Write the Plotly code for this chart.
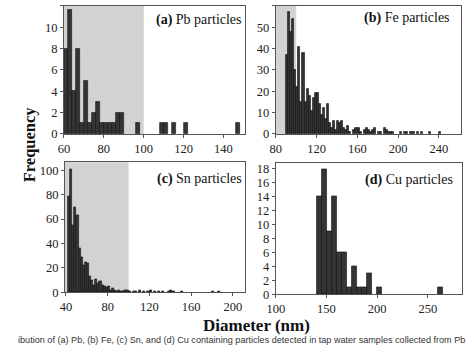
import plotly.graph_objects as go

# ---------------- data ----------------
pb_bins = [60, 62, 64, 66, 68, 70, 72, 74, 76, 78, 80, 82, 84, 86, 88, 96, 108, 110, 114, 120, 146]
pb_counts = [8, 11.6, 4, 8, 1, 5, 1, 2, 3, 1, 1, 1, 1, 2, 2, 1, 1, 1, 1, 1, 1]

fe_bins = [90, 92, 94, 96, 98, 100, 102, 104, 106, 108, 110, 112, 114, 116, 118, 120, 122, 124, 126, 128,
           130, 132, 134, 136, 138, 140, 142, 144, 146, 148, 150, 152, 156, 158, 160, 162, 166, 168, 170, 172,
           174, 176, 180, 182, 186, 188, 190, 192, 194, 202, 206, 208, 212, 214, 218, 222, 230, 240]
fe_counts = [37, 57, 48, 54, 30, 22, 41, 15, 38, 15, 21, 18, 11, 17, 19, 19, 14, 9, 12, 7,
             14, 5, 3, 6, 2, 6, 5, 6, 3, 2, 4, 1, 2, 3, 3, 1, 2, 3, 2, 1,
             2, 3, 1, 1, 3, 2, 1, 1, 1, 1, 1, 1, 1, 1, 1, 1, 1, 1]

sn_bins = [42, 44, 46, 48, 50, 52, 54, 56, 58, 60, 62, 64, 66, 68, 70, 72, 74, 76, 78, 80,
           82, 84, 86, 88, 90, 92, 94, 96, 98, 100, 104, 106, 110, 114, 118, 120, 124, 128, 132, 138,
           140, 142, 150, 180, 186]
sn_counts = [79, 101, 55, 70, 63, 36, 29, 22, 25, 24, 13, 10, 6, 11, 7, 9, 6, 5, 4, 5,
             2, 3, 2, 1, 2, 1, 1, 2, 2, 1, 1, 1, 2, 1, 1, 2, 1, 1, 1, 1,
             2, 1, 1, 1, 1]

cu_bins = [140, 145, 150, 155, 160, 165, 170, 175, 180, 185, 190, 200, 260]
cu_counts = [14, 18, 9, 14, 6, 6, 1, 4, 1, 1, 3, 1, 1]

panel_titles = ["(a)", "(b)", "(c)", "(d)"]
panel_names = ["Pb particles", "Fe particles", "Sn particles", "Cu particles"]

# ---------------- figure ----------------
W, H = 474, 353
SERIF = "Liberation Serif"

def px_x(a, b):
    return [a / W, b / W]
def px_y(top, bottom):
    return [1 - bottom / H, 1 - top / H]

panels = [
    dict(bins=pb_bins, counts=pb_counts, width=2, xr=[60, 151], yr=[0, 12], xt=[60, 80, 100, 120, 140],
         yt=list(range(0, 13, 2)), dom_x=px_x(56, 241), dom_y=px_y(5, 136), shade=100),
    dict(bins=fe_bins, counts=fe_counts, width=2, xr=[80, 262], yr=[0, 60], xt=[80, 120, 160, 200, 240],
         yt=list(range(0, 61, 10)), dom_x=px_x(272, 461), dom_y=px_y(5, 136), shade=100),
    dict(bins=sn_bins, counts=sn_counts, width=2, xr=[39, 212], yr=[0, 106.6], xt=[40, 80, 120, 160, 200],
         yt=list(range(0, 101, 20)), dom_x=px_x(57, 241), dom_y=px_y(165, 298), shade=100),
    dict(bins=cu_bins, counts=cu_counts, width=5, xr=[100, 284], yr=[0, 18.8], xt=[100, 150, 200, 250],
         yt=list(range(0, 19, 2)), dom_x=px_x(272, 462), dom_y=px_y(166, 300), shade=None),
]

fig = go.Figure()
shapes = []
annotations = []
label_pos = [(240, 19), (452, 17), (240, 182), (455, 183)]

for i, p in enumerate(panels):
    n = i + 1
    xa = "x" if n == 1 else f"x{n}"
    ya = "y" if n == 1 else f"y{n}"
    centers = [b + p["width"] / 2 for b in p["bins"]]
    fig.add_trace(go.Bar(
        x=centers, y=p["counts"], width=p["width"],
        marker=dict(color="#353535", line=dict(color="#111", width=0.6)),
        xaxis=xa, yaxis=ya, showlegend=False, hoverinfo="x+y"))
    axis_common = dict(showline=True, linecolor="#555", linewidth=1, mirror=True,
                       ticks="outside", ticklen=3, tickcolor="#555", showgrid=False,
                       zeroline=False)
    fig.layout[("xaxis" if n == 1 else f"xaxis{n}")] = dict(
        domain=p["dom_x"], range=p["xr"], tickvals=p["xt"], anchor=ya, **axis_common)
    fig.layout[("yaxis" if n == 1 else f"yaxis{n}")] = dict(
        domain=p["dom_y"], range=p["yr"], tickvals=p["yt"], anchor=xa, **axis_common)
    if p["shade"] is not None:
        shapes.append(dict(type="rect", xref=xa, yref=f"{ya} domain", x0=p["xr"][0], x1=p["shade"],
                           y0=0, y1=1, fillcolor="#d2d2d2", line=dict(width=0), layer="below"))
    lx, ly = label_pos[i]
    annotations.append(dict(
        text=f"<b>{panel_titles[i]}</b> {panel_names[i]}", xref="paper", yref="paper",
        x=lx / W, y=1 - ly / H, xanchor="right", yanchor="middle", showarrow=False,
        font=dict(family=SERIF, size=14, color="#111")))

fig.update_xaxes(tickfont=dict(family=SERIF, size=12.5, color="#222"))
fig.update_yaxes(tickfont=dict(family=SERIF, size=12.5, color="#222"))

annotations.append(dict(text="<b>Frequency</b>", xref="paper", yref="paper", x=21 / W, y=1 - 147 / H,
                        textangle=-90, showarrow=False, xanchor="center", yanchor="middle",
                        font=dict(family=SERIF, size=16.5, color="#111")))
annotations.append(dict(text="<b>Diameter (nm)</b>", xref="paper", yref="paper", x=252 / W, y=1 - 332 / H,
                        showarrow=False, xanchor="center", yanchor="middle",
                        font=dict(family=SERIF, size=17, color="#111")))
annotations.append(dict(
    text="ibution of (a) Pb, (b) Fe, (c) Sn, and (d) Cu containing particles detected in tap water samples collected from Pb",
    xref="paper", yref="paper", x=0.5, y=1 - 347 / H, xanchor="center", yanchor="middle",
    showarrow=False, font=dict(family="Liberation Sans", size=9.1, color="#333")))

fig.update_layout(
    width=W, height=H, margin=dict(l=0, r=0, t=0, b=0),
    font=dict(family=SERIF, color="#222"),
    paper_bgcolor="white", plot_bgcolor="white", bargap=0,
    shapes=shapes, annotations=annotations)

fig.write_html("out.html")
